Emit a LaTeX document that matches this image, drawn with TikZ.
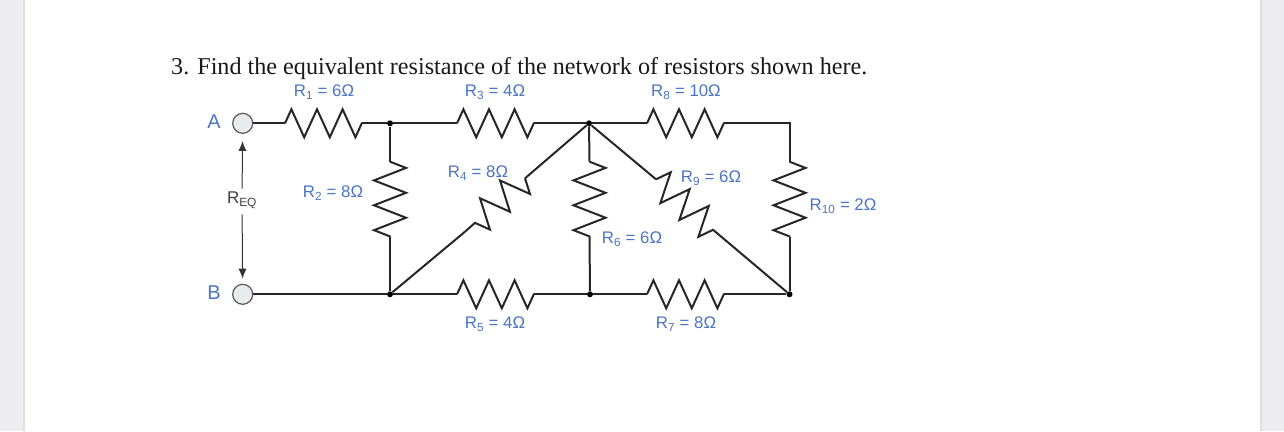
\documentclass[tikz,border=0pt]{standalone}
\usepackage{fontspec}
\setmainfont{Liberation Sans}
\newfontfamily\titlefont{Liberation Serif}
\usetikzlibrary{arrows.meta,decorations.pathmorphing}
\definecolor{labelblue}{HTML}{4A74C4}
\definecolor{termfill}{HTML}{E8ECEC}
\definecolor{sidegray}{HTML}{ECECF1}
\tikzset{
  wire/.style = {draw=black!85, line width=2pt, line join=miter},
  res/.style 2 args = {wire, decorate, decoration={zigzag, amplitude=#1, segment length=#2}},
  joint/.style = {draw=none, fill=black, circle, inner sep=0pt, minimum size=6pt},
  term/.style = {draw=black!65, fill=termfill, circle, line width=1.2pt, inner sep=0pt, minimum size=20pt},
  lab/.style = {text=labelblue, font=\fontsize{16.8}{19}\selectfont, inner sep=0pt},
  pin/.style = {text=labelblue, font=\fontsize{20}{23}\selectfont, inner sep=0pt},
  req/.style = {text=black!75, font=\fontsize{17}{19}\selectfont, inner sep=0pt},
  meter/.style = {draw=black!80, line width=1pt, -{Latex[length=10pt,width=8pt]}}
}
\begin{document}
\begin{tikzpicture}[x=1pt, y=-1pt]
\useasboundingbox (0,0) rectangle (1284,431);

% page edges
\fill[sidegray] (0,0) rectangle (24,431);
\fill[sidegray] (1260,0) rectangle (1284,431);
\fill[black!12] (22.5,0) rectangle (24.5,431);
\fill[black!12] (1259.5,0) rectangle (1261.5,431);

\node[anchor=base west, inner sep=0pt, font=\titlefont\fontsize{24.15}{28}\selectfont, text=black!90] (title) at (171,74.5) {3. Find the equivalent resistance of the network of resistors shown here.};

% terminals and junctions
\node[term] (A) at (242.7,123.3) {};
\node[term] (B) at (242.7,294.3) {};
\node[joint] (n1) at (390,123.3) {};
\node[joint] (n2) at (589,123.3) {};
\node[joint] (n3) at (390,294.3) {};
\node[joint] (n4) at (590,294.3) {};
\node[joint] (n5) at (789.5,294.3) {};
\coordinate (c1) at (789.5,123.3);

% resistor ends
\coordinate (r1a) at (285,123.3);  \coordinate (r1b) at (362,123.3);
\coordinate (r3a) at (457,123.3);  \coordinate (r3b) at (534,123.3);
\coordinate (r8a) at (647,123.3);  \coordinate (r8b) at (724,123.3);
\coordinate (r5a) at (457,294.3);  \coordinate (r5b) at (534,294.3);
\coordinate (r7a) at (647,294.3);  \coordinate (r7b) at (724,294.3);
\coordinate (r2a) at (390,161.7);  \coordinate (r2b) at (390,236.7);
\coordinate (r6a) at (589.5,161.7);  \coordinate (r6b) at (589.5,236.7);
\coordinate (r10a) at (789.5,161.7);  \coordinate (r10b) at (789.5,236.7);
\coordinate (r4a) at (525,178.3);  \coordinate (r4b) at (465,231.7);
\coordinate (r9a) at (656,179.3);  \coordinate (r9b) at (713.3,230);

% wires
\draw[wire] (A) -- (r1a);
\draw[wire] (r1b) -- (n1);
\draw[wire] (n1) -- (r3a);
\draw[wire] (r3b) -- (n2);
\draw[wire] (n2) -- (r8a);
\draw[wire] (r8b) -- (c1) -- (r10a);
\draw[wire] (r10b) -- (n5);
\draw[wire] (B) -- (n3);
\draw[wire] (n3) -- (r5a);
\draw[wire] (r5b) -- (n4);
\draw[wire] (n4) -- (r7a);
\draw[wire] (r7b) -- (n5);
\draw[wire] (n1) -- (r2a);
\draw[wire] (r2b) -- (n3);
\draw[wire] (n2) -- (r6a);
\draw[wire] (r6b) -- (n4);
\draw[wire] (n2) -- (r4a);
\draw[wire] (r4b) -- (n3);
\draw[wire] (n2) -- (r9a);
\draw[wire] (r9b) -- (n5);

% resistors
\draw[res={14pt}{25.6pt}] (r1a) -- (r1b);
\draw[res={14pt}{25.6pt}] (r3a) -- (r3b);
\draw[res={14pt}{25.6pt}] (r8a) -- (r8b);
\draw[res={14pt}{25.6pt}] (r5a) -- (r5b);
\draw[res={14pt}{25.6pt}] (r7a) -- (r7b);
\draw[res={16pt}{24.9pt}] (r2a) -- (r2b);
\draw[res={16pt}{24.9pt}] (r6a) -- (r6b);
\draw[res={16pt}{24.9pt}] (r10a) -- (r10b);
\draw[res={15pt}{26.8pt}] (r4a) -- (r4b);
\draw[res={15pt}{25.4pt}] (r9a) -- (r9b);

% labels
\node[pin] (labA) at (214,122) {A};
\node[pin] (labB) at (214,293) {B};
\node[req] (labreq) at (242,200) {R\textsubscript{EQ}};
\node[lab] (lab1) at (324,92) {R\textsubscript{1} = 6Ω};
\node[lab] (lab3) at (495,92) {R\textsubscript{3} = 4Ω};
\node[lab] (lab8) at (686,92) {R\textsubscript{8} = 10Ω};
\node[lab] (lab4) at (478,173) {R\textsubscript{4} = 8Ω};
\node[lab] (lab2) at (333,193) {R\textsubscript{2} = 8Ω};
\node[lab] (lab9) at (711,178) {R\textsubscript{9} = 6Ω};
\node[lab] (lab10) at (843,206) {R\textsubscript{10} = 2Ω};
\node[lab] (lab6) at (632,239) {R\textsubscript{6} = 6Ω};
\node[lab] (lab5) at (495,324) {R\textsubscript{5} = 4Ω};
\node[lab] (lab7) at (686,324) {R\textsubscript{7} = 8Ω};

% R_eq arrows
\draw[meter, shorten <=3pt, shorten >=7pt] (labreq) -- (A);
\draw[meter, shorten <=6pt, shorten >=5pt] (labreq) -- (B);

\end{tikzpicture}
\end{document}
